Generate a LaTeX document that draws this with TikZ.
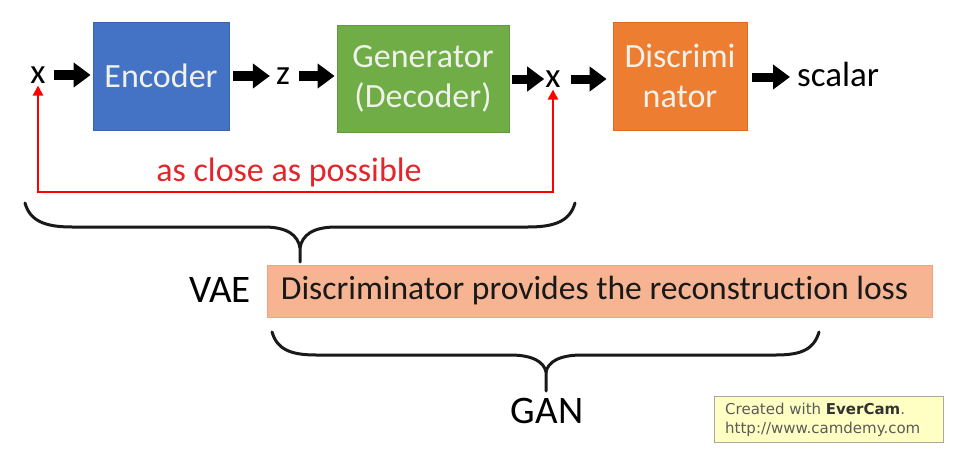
\documentclass[tikz,border=0pt]{standalone}
\usepackage{fontspec}
\setmainfont{Carlito}[Ligatures=NoCommon]
\newfontfamily\evfont{DejaVu Sans}
\usetikzlibrary{arrows.meta}
\definecolor{encblue}{HTML}{4472C4}
\definecolor{encborder}{HTML}{3A62AE}
\definecolor{gengreen}{HTML}{70AD47}
\definecolor{genborder}{HTML}{5E9A3A}
\definecolor{discorange}{HTML}{ED7D31}
\definecolor{discborder}{HTML}{D96B22}
\definecolor{salmon}{HTML}{F6B493}
\definecolor{salmonborder}{HTML}{F2A47C}
\definecolor{boxtext}{HTML}{EEF2EA}
\definecolor{redtext}{HTML}{E3262B}
\definecolor{evyellow}{HTML}{FFFFC4}
\definecolor{evborder}{HTML}{A8A8A0}
\definecolor{evgray}{HTML}{5A5A5A}
\tikzset{
  bigfont/.style={font=\fontsize{34}{40}\selectfont},
  blockbox/.style={bigfont, text=boxtext, align=center, inner sep=0pt, line width=0.8pt},
  lbl/.style={font=\fontsize{35}{40}\selectfont, inner sep=0pt},
  biglbl/.style={font=\fontsize{39}{44}\selectfont, inner sep=0pt},
  blk/.style={line width=9pt, black, -{Triangle[length=17pt,width=24pt]}},
  redarrow/.style={red, line width=2.4pt, {Triangle[length=10pt,width=10pt]}-{Triangle[length=10pt,width=10pt]}},
  brace/.style={line width=3pt, black!90, line cap=round},
}
\begin{document}
\begin{tikzpicture}[x=1pt,y=-1pt]
\useasboundingbox[fill=white] (0,0) rectangle (958,452);

% top row
\node[lbl] (xa) at (38,75) {x};
\node[blockbox, fill=encblue, draw=encborder, minimum width=136pt, minimum height=108pt] (enc) at (161,76) {Encoder};
\node[lbl] (z) at (283,76) {z};
\node[blockbox, fill=gengreen, draw=genborder, minimum width=172pt, minimum height=107pt] (gen) at (423,78.5) {Generator\\[0pt](Decoder)};
\node[lbl] (xb) at (553,79) {x};
\node[blockbox, fill=discorange, draw=discborder, minimum width=134pt, minimum height=108pt] (disc) at (680,76) {Discrimi\\[0pt]nator};
\node[lbl, anchor=base west] (sc) at (797,86) {scalar};

\draw[blk, shorten <=8pt, shorten >=2pt] (xa.east) -- (xa.east -| enc.west);
\draw[blk, shorten <=4pt, shorten >=6pt] (enc.east |- z.west) -- (z.west);
\draw[blk, shorten <=9pt, shorten >=2pt] (z.east) -- (z.east -| gen.west);
\draw[blk, shorten <=3pt, shorten >=1pt] (gen.east |- xb.west) -- (xb.west);
\draw[blk, shorten <=10pt, shorten >=6pt] (xb.east) -- (xb.east -| disc.west);
\draw[blk, shorten <=5pt, shorten >=7pt] (disc.east |- 0,77) -- (sc.west |- 0,77);

% red feedback
\coordinate (rbot) at (0,192);
\draw[redarrow, shorten <=2pt, shorten >=2pt] (xb.south) -- (xb.south |- rbot) -- (xa.south |- rbot) -- (xa.south);
\node[font=\fontsize{34}{40}\selectfont, text=redtext, inner sep=0pt] (close) at (289,172) {as close as possible};

% upper brace
\draw[brace] (25,203) .. controls (30,221) and (45,227) .. (72,227) -- (264,227)
  .. controls (287,227) and (298,235) .. (300,248) -- (300,262);
\draw[brace] (300,248) .. controls (302,235) and (313,227) .. (336,227) -- (528,227)
  .. controls (555,227) and (570,221) .. (575,203);

\node[biglbl] (vae) at (220,290) {VAE};
\node[font=\fontsize{33.6}{40}\selectfont, fill=salmon, draw=salmonborder, line width=0.8pt, minimum width=665pt, minimum height=52pt, inner sep=0pt, text=black!90] (loss) at (599.5,291) {Discriminator provides the reconstruction loss\hspace*{10pt}};

% lower brace
\draw[brace] (272,332) .. controls (277,349) and (290,355) .. (316,355) -- (510,355)
  .. controls (533,355) and (544,362) .. (546,372) -- (546,391);
\draw[brace] (546,372) .. controls (548,362) and (559,355) .. (582,355) -- (776,355)
  .. controls (802,355) and (814,349) .. (819,332);

\node[biglbl] (gan) at (547,411) {GAN};

% EverCam badge
\node[fill=evyellow, draw=evborder, line width=1pt, minimum width=229pt, minimum height=46pt, inner sep=0pt] (ev) at (828.5,419) {};
\node[anchor=west, align=left, inner sep=0pt, text=evgray, font=\evfont\fontsize{15}{19}\selectfont] (evt) at (725,420) {Created with \textbf{\color{black!80}EverCam}.\\http://www.camdemy.com};
\end{tikzpicture}
\end{document}
